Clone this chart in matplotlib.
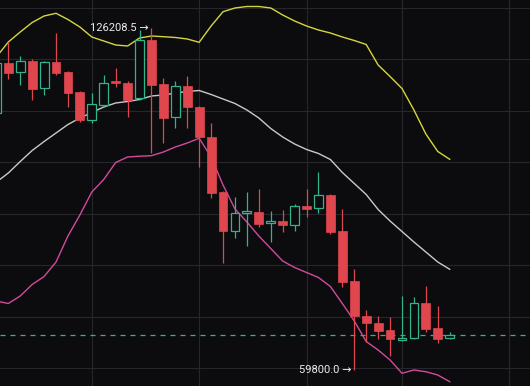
import matplotlib
matplotlib.use('Agg')
import matplotlib.pyplot as plt
import numpy as np

#--weekly candles (price)
opens  = [109550, 119400, 117510, 119770, 114370, 119510, 117570, 113630, 108250, 111160,
          115730, 115380, 112520, 123790, 115180, 108800, 114850, 110830, 104950, 94330,
          86760, 90250, 90350, 88190, 88700, 87920, 91550, 91110, 93690, 86700,
          76990, 70190, 68890, 67480, 65530, 65860, 72780, 67920, 65860]
highs  = [119900, 123450, 120680, 120100, 119710, 125090, 117820, 113940, 113590, 116990,
          118290, 115820, 125730, 126208.5, 116410, 115820, 116800, 110970, 107730, 94400,
          93360, 94210, 94760, 90580, 90780, 91940, 94850, 98150, 93880, 90910,
          79260, 71360, 70190, 69940, 74080, 73940, 76080, 72140, 67150]
lows   = [109200, 116150, 114990, 112140, 113010, 116990, 110720, 107770, 107610, 110680,
          114660, 108890, 112140, 101790, 103730, 106640, 106640, 99130, 93050, 80540,
          85280, 83840, 87570, 84560, 86560, 86760, 89380, 90250, 86170, 75770,
          59800, 65200, 65670, 62430, 65400, 65730, 67150, 64890, 65730]
closes = [119260, 117450, 119650, 114330, 119510, 117440, 113550, 108250, 111300, 115400,
          115340, 112140, 123790, 115050, 108700, 114890, 110680, 104890, 94140, 86760,
          90250, 90580, 88060, 88600, 87920, 91550, 90970, 93690, 86500, 76850,
          70100, 68780, 67340, 65670, 65980, 72660, 67610, 65730, 66500]

#--bollinger bands
upper  = [120485, 123397, 125339, 127184, 128446, 128970, 127765, 126309, 124368, 123591,
          122815, 122621, 124173, 124562, 124426, 124271, 123980, 123339, 126504, 129281,
          129999, 130290, 130290, 129999, 128639, 127474, 126504, 125727, 125145, 124368,
          123688, 122912, 118931, 116698, 114368, 110194, 105534, 102135, 100621]
middle = [96188, 97960, 100193, 102329, 104076, 105727, 107377, 108639, 109707, 110776,
          111552, 111844, 112232, 112912, 113106, 113494, 113785, 113980, 113203, 112329,
          111455, 110193, 108640, 106601, 104950, 103591, 102523, 101747, 100582, 98058,
          95921, 93786, 90873, 88640, 86601, 84562, 82621, 80679, 79262]
lower  = [73106, 72621, 74077, 76310, 77864, 80679, 85728, 89806, 94271, 96699,
          99999, 101067, 101222, 101319, 102038, 103009, 103786, 104698, 101067, 95630,
          90970, 88446, 85727, 83300, 80873, 79611, 78640, 77669, 75922, 72621,
          69223, 65243, 63592, 61650, 59068, 59709, 59378, 58738, 57437]

grid_x = [8, 17, 26, 34, 43]
grid_y = np.arange(60000, 130001, 10000)

bg    = '#0c0c0f'
red   = '#e0464e'
green = '#33b38c'

def plot():
    n  = len(opens)
    xs = np.arange(n)
    o, h, l, c = map(np.array, (opens, highs, lows, closes))
    up = c >= o

    fig = plt.figure(figsize=(5.3, 3.86), dpi=100)
    fig.patch.set_facecolor(bg)
    ax = fig.add_axes([0, 0, 1, 1])
    ax.set_facecolor(bg)

    for gx in grid_x:
        ax.axvline(gx, color='#25272c', lw=0.8, zorder=0)
    for gy in grid_y:
        ax.axhline(gy, color='#25272c', lw=0.8, zorder=0)

    #--bands
    ax.plot(xs, upper, color='#d6d63c', lw=1.0, zorder=2)
    ax.plot(xs, middle, color='#c9c9c9', lw=1.0, zorder=2)
    ax.plot(xs, lower, color='#d24a9c', lw=1.0, zorder=2)

    #--candles
    w = 0.74
    ax.vlines(xs[~up], l[~up], h[~up], color=red, lw=0.9, zorder=3)
    ax.vlines(xs[up], l[up], h[up], color=green, lw=0.9, zorder=3)
    body = np.maximum(np.abs(c - o), 250)
    ax.bar(xs[~up], body[~up], bottom=np.minimum(o, c)[~up], width=w,
           color=red, edgecolor=red, lw=0.5, zorder=4)
    ax.bar(xs[up], body[up], bottom=np.minimum(o, c)[up], width=w,
           color=bg, edgecolor=green, lw=0.9, zorder=4)

    #--last price
    ax.axhline(closes[-1], color=green, lw=0.9, dashes=(4, 4), zorder=1)

    #--high / low labels
    ih = int(np.argmax(h))
    il = int(np.argmin(l))
    fam = ['Roboto', 'DejaVu Sans']
    ax.text(ih - 0.2, h[ih], '%.1f \u2192' % h[ih], ha='right', va='center',
            color='#ececec', fontsize=8, family=fam, zorder=5)
    ax.text(il - 0.2, l[il], '%.1f \u2192' % l[il], ha='right', va='center',
            color='#ececec', fontsize=8, family=fam, zorder=5)

    ax.set_xlim(0.304, 44.73)
    ax.set_ylim(56602, 131552)
    ax.axis('off')

    fig.savefig('out.png', dpi=100, facecolor=bg)
    plt.close(fig)

if __name__ == "__main__":
    plot()
